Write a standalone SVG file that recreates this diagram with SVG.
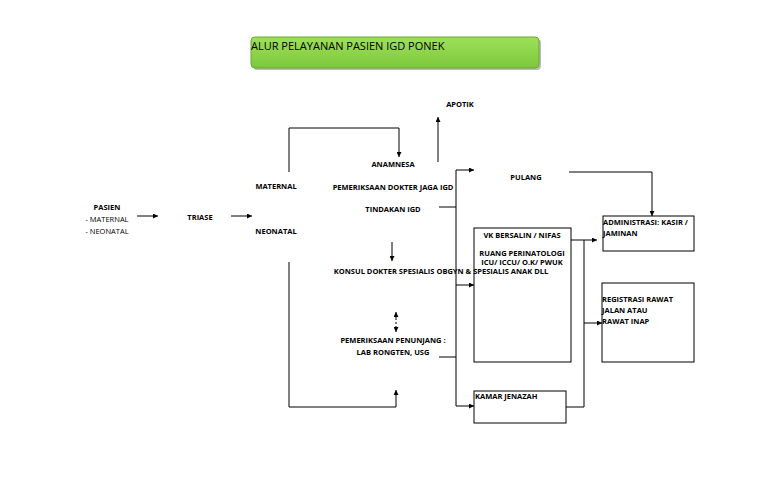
<svg xmlns="http://www.w3.org/2000/svg" width="768" height="503" viewBox="0 0 768 503">
<style>
text{font-family:"Open Sans","Liberation Sans",sans-serif;font-size:7.5px;font-weight:bold;fill:#000}
.c{text-anchor:middle}
.ln{fill:none;stroke:#000;stroke-width:1}
.bx{fill:#fff;stroke:#000;stroke-width:1}
</style>
<defs>
<marker id="a" viewBox="0 0 6 6" refX="6" refY="3" markerWidth="5" markerHeight="5" orient="auto"><path d="M0,0L6,3L0,6z" fill="#000"/></marker>
<linearGradient id="g" x1="0" y1="0" x2="0" y2="1"><stop offset="0" stop-color="#9ee05a"/><stop offset="1" stop-color="#7cc83c"/></linearGradient>
</defs>
<rect width="768" height="503" fill="#fff"/>
<g id="title"><rect x="253" y="39" width="288" height="31" rx="4" fill="#bbb"/><rect x="251" y="37" width="288" height="31" rx="4" fill="url(#g)" stroke="#6aa830"/><text x="251" y="50" style="font-size:11px;font-weight:normal">ALUR PELAYANAN PASIEN IGD PONEK</text></g>
<g id="connectors">
<path class="ln" d="M137,216H158" marker-end="url(#a)"/>
<path class="ln" d="M231,216H252" marker-end="url(#a)"/>
<path class="ln" d="M289,172V128H399V157" marker-end="url(#a)"/>
<path class="ln" d="M289,262V407H396V390" marker-end="url(#a)"/>
<path class="ln" d="M438,162V117" marker-end="url(#a)"/>
<path class="ln" d="M392,242V261" marker-end="url(#a)"/>
<path class="ln" d="M396,320V312" marker-end="url(#a)"/>
<path class="ln" d="M396,322V332" stroke-dasharray="2,2" marker-end="url(#a)"/>
<path class="ln" d="M439,207H456"/>
<path class="ln" d="M439,357H456"/>
<path class="ln" d="M456,406V170H474" marker-end="url(#a)"/>
<path class="ln" d="M456,285H474" marker-end="url(#a)"/>
<path class="ln" d="M456,406H474" marker-end="url(#a)"/>
<path class="ln" d="M569,172H652V216" marker-end="url(#a)"/>
<path class="ln" d="M571,240H597" marker-end="url(#a)"/>
<path class="ln" d="M566,407H584V240"/>
<path class="ln" d="M584,323H602" marker-end="url(#a)"/>
</g>
<g id="pasien"><text x="107" y="210" class="c">PASIEN</text><text x="107" y="222" class="c" style="font-weight:normal">- MATERNAL</text><text x="107" y="234" class="c" style="font-weight:normal">- NEONATAL</text></g>
<g id="triase"><text x="200" y="220" class="c">TRIASE</text></g>
<g id="maternal"><text x="276" y="189" class="c">MATERNAL</text></g>
<g id="neonatal"><text x="276" y="234" class="c">NEONATAL</text></g>
<g id="apotik"><text x="460" y="107" class="c">APOTIK</text></g>
<g id="igd"><text x="393" y="167" class="c">ANAMNESA</text><text x="393" y="190" class="c">PEMERIKSAAN DOKTER JAGA IGD</text><text x="393" y="212" class="c">TINDAKAN IGD</text></g>
<g id="penunjang"><text x="393" y="343" class="c">PEMERIKSAAN PENUNJANG :</text><text x="393" y="355" class="c">LAB RONGTEN, USG</text></g>
<g id="pulang"><text x="526" y="180" class="c">PULANG</text></g>
<g id="vk"><rect class="bx" x="474" y="228" width="97" height="134"/><text x="522" y="238" class="c">VK BERSALIN / NIFAS</text><text x="522" y="256" class="c">RUANG PERINATOLOGI</text><text x="522" y="265" class="c">ICU/ ICCU/ O.K/ PWUK</text></g>
<g id="konsul"><text x="441" y="274" class="c">KONSUL DOKTER SPESIALIS OBGYN &amp; SPESIALIS ANAK DLL</text></g>
<g id="jenazah"><rect class="bx" x="474" y="391" width="92" height="32"/><text x="475" y="399">KAMAR JENAZAH</text></g>
<g id="administrasi"><rect class="bx" x="603" y="216" width="91" height="35"/><text x="603" y="225">ADMINISTRASI: KASIR /</text><text x="603" y="236">JAMINAN</text></g>
<g id="registrasi"><rect class="bx" x="602" y="283" width="92" height="79"/><text x="602" y="302">REGISTRASI RAWAT</text><text x="602" y="313">JALAN ATAU</text><text x="602" y="324">RAWAT INAP</text></g>
</svg>
